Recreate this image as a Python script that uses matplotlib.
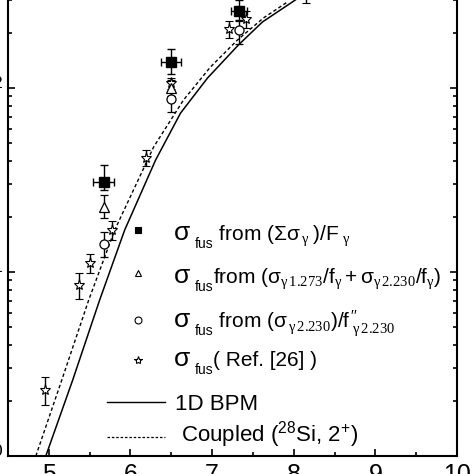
import numpy as np
import matplotlib
matplotlib.use("Agg")
import matplotlib.pyplot as plt

plt.rcParams['font.family'] = ['Liberation Sans', 'DejaVu Sans']
plt.rcParams['mathtext.fontset'] = 'custom'
plt.rcParams['mathtext.rm'] = 'Liberation Sans'
plt.rcParams['mathtext.sf'] = 'Liberation Sans'
plt.rcParams['mathtext.it'] = 'Liberation Sans'
plt.rcParams['mathtext.bf'] = 'Liberation Serif'

# sigma_fus from (sum sigma_gamma)/F_gamma  (filled squares)
sq_x = [5.67, 6.50, 7.33]
sq_y = [30.8, 138.0, 262.0]
sq_ylo = [2.9, 19.0, 28.0]
sq_yhi = [7.4, 25.0, 40.0]
sq_xerr = [0.13, 0.12, 0.10]

# sigma_fus from (s1.273/f + s2.230/f)  (open triangles)
tri_x = [5.67, 6.50]
tri_y = [22.6, 100.0]
tri_ylo = [2.9, 10.0]
tri_yhi = [3.6, 10.0]

# sigma_fus from s2.230/f''  (open circles)
circ_x = [5.67, 6.50, 7.33]
circ_y = [14.2, 87.0, 207.0]
circ_ylo = [2.1, 13.0, 34.0]
circ_yhi = [2.3, 9.0, 25.0]

# Ref. [26]  (open stars)
star_x = [4.95, 5.37, 5.51, 5.78, 6.19, 6.50, 7.21, 7.42, 8.15]
star_y = [2.28, 8.5, 11.2, 16.9, 41.5, 106.0, 209.0, 237.0, 333.0]
star_ylo = [0.39, 1.37, 1.3, 2.0, 3.9, 7.0, 22.0, 24.0, 43.0]
star_yhi = [0.41, 1.38, 1.3, 2.0, 4.3, 7.0, 22.0, 24.0, 43.0]

# 1D BPM (solid)
bpm_x = [4.963, 5.293, 5.623, 5.929, 6.308, 6.614, 6.944, 7.323, 7.616, 8.020]
bpm_y = [1.00, 2.59, 7.05, 16.9, 40.6, 73.1, 113.3, 171.4, 228.3, 300.9]

# Coupled (28Si, 2+) (dashed)
cpl_x = [4.841, 5.159, 5.489, 5.807, 6.284, 6.650, 6.980, 7.311, 7.628, 7.922]
cpl_y = [1.00, 2.59, 7.05, 16.9, 47.8, 86.1, 130.0, 182.4, 240.0, 293.1]

# legend: symbol and prefix shared by the four data rows
sig = "\u03c3"
sub = "fus"
rest = [
    r" from $(\Sigma\sigma_{\,\mathbf{\gamma}}\;)/\mathrm{F}_{\;\mathbf{\gamma}}$",
    r"from $(\sigma_{\mathbf{\gamma\,1.273}}/\mathrm{f}_{\mathbf{\gamma}}"
    r"+\sigma_{\mathbf{\gamma\,2.230}}/\mathrm{f}_{\mathbf{\gamma}})$",
    r" from $(\sigma_{\,\mathbf{\gamma\,2.230}})/\mathrm{f}^{\,\prime\prime}_{\;\mathbf{\gamma\,2.230}}$",
    "( Ref. [26] )",
]
line_labels = ["1D BPM", r" Coupled ($^{28}$Si, 2$^{+}$)"]

fig = plt.figure(figsize=(4.74, 4.74), dpi=100)
ax = fig.add_axes([8 / 474, 18 / 474, 449 / 474, 552 / 474])

ax.plot(bpm_x, bpm_y, '-', color='black', lw=1.1)
ax.plot(cpl_x, cpl_y, '--', color='black', lw=1.0, dashes=(2.5, 1.8))

eb = dict(ecolor='black', elinewidth=1.0, capsize=3, capthick=1.0, ls='none')
ax.errorbar(star_x, star_y, yerr=[star_ylo, star_yhi], marker='*', ms=8,
            mfc='white', mec='black', mew=0.8, **eb)
ax.errorbar(circ_x, circ_y, yerr=[circ_ylo, circ_yhi], marker='o', ms=6.5,
            mfc='white', mec='black', mew=0.9, **eb)
ax.errorbar(tri_x, tri_y, yerr=[tri_ylo, tri_yhi], marker='^', ms=7,
            mfc='white', mec='black', mew=0.9, **eb)
ax.errorbar(sq_x, sq_y, xerr=sq_xerr, yerr=[sq_ylo, sq_yhi], marker='s', ms=6.5,
            mfc='black', mec='black', **eb)

ax.set_yscale('log')
ax.set_xlim(4.5, 10)
ax.set_ylim(1, 1000)
ax.set_xticks([5, 6, 7, 8, 9, 10])
ax.set_xticks(np.arange(4.5, 10.01, 0.5), minor=True)
ax.tick_params(which='both', direction='in', top=True, right=True, labelsize=18, width=1.2)
ax.tick_params(which='major', length=5)
ax.tick_params(which='minor', length=3)
ax.tick_params(axis='x', pad=5)
for s in ax.spines.values():
    s.set_linewidth(1.5)


# legend drawn by hand; positions given in picture pixels
def fx(px):
    return (px - 8) / 449.0


def fy(py):
    return (456 - py) / 552.0


T = ax.transAxes
mark_y = [230, 273, 320, 360]
base_y = [240, 283, 327, 366]
kinds = ['s', '^', 'o', '*']
for k, my, by, r in zip(kinds, mark_y, base_y, rest):
    fc = 'black' if k == 's' else 'white'
    ax.plot([fx(138)], [fy(my)], k, ms=5 if k != '*' else 6, mfc=fc, mec='black',
            mew=0.8, transform=T)
    ax.text(fx(174), fy(by), sig, transform=T, fontsize=19, va='baseline')
    ax.text(fx(195), fy(by + 8), sub, transform=T, fontsize=10, va='baseline')
    ax.text(fx(213), fy(by), r, transform=T, fontsize=15, va='baseline')

for ls, my, by, lab in zip(['-', '--'], [402, 437], [410, 441], line_labels):
    ax.plot([fx(107), fx(165)], [fy(my), fy(my)], ls, color='black',
            lw=1.0 if ls == '-' else 0.9, transform=T,
            **({} if ls == '-' else {'dashes': (2.0, 1.5)}))
    ax.text(fx(175), fy(by), lab, transform=T, fontsize=16, va='baseline')

fig.savefig('out.png', dpi=100)
